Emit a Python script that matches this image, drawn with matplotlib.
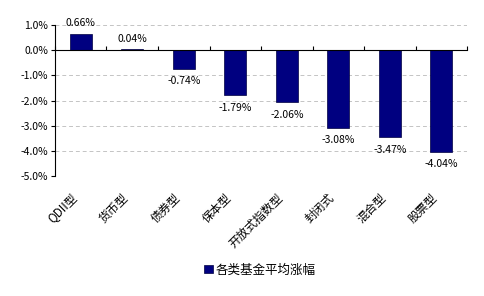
import numpy as np
import matplotlib
matplotlib.use('Agg')
import matplotlib.pyplot as plt

plt.rcParams['font.family'] = ['Noto Sans CJK SC', 'DejaVu Sans']

categories = ['QDII型', '货币型', '债券型', '保本型', '开放式指数型', '封闭式', '混合型', '股票型']
values = [0.66, 0.04, -0.74, -1.79, -2.06, -3.08, -3.47, -4.04]
yticks = [1, 0, -1, -2, -3, -4, -5]
series_name = '各类基金平均涨幅'

fig = plt.figure(figsize=(4.84, 2.96), dpi=100)
ax = fig.add_axes([0.1136, 0.4054, 0.8514, 0.5101])

x = np.arange(len(categories))
ax.bar(x, values, width=0.42, color='#000080', edgecolor='#000040', linewidth=0.5,
       label=series_name, zorder=3)

for xi, v in zip(x, values):
    if v >= 0:
        ax.text(xi, v + 0.22, f'{v:.2f}%', ha='center', va='bottom', fontsize=7.5)
    else:
        ax.text(xi, v - 0.3, f'{v:.2f}%', ha='center', va='top', fontsize=7.5)

for g in [1, -1, -2, -3, -4]:
    ax.axhline(g, color='#c4c4c4', lw=0.7, ls=(0, (4, 3)), zorder=1)

ax.set_xlim(-0.5, len(categories) - 0.5)
ax.set_ylim(-5, 1)
ax.set_yticks(yticks)
ax.set_yticklabels([f'{t:.1f}%' for t in yticks], fontsize=7.5)
ax.tick_params(axis='y', length=3, width=0.8, pad=2)

ax.spines['top'].set_visible(False)
ax.spines['right'].set_visible(False)
ax.spines['bottom'].set_position(('data', 0))
ax.spines['bottom'].set_zorder(4)
ax.set_xticks(np.arange(len(categories) + 1) - 0.5)
ax.set_xticklabels([])
ax.tick_params(axis='x', direction='in', length=3, width=0.8)

for xi, c in zip(x, categories):
    ax.text(xi - 0.2, -5.6, c, rotation=45, rotation_mode='anchor',
            ha='right', va='top', fontsize=8.5)

fig.legend(loc='center', bbox_to_anchor=(0.537, 0.088), frameon=False,
           fontsize=9, handlelength=0.7, handleheight=0.7, handletextpad=0.2)

fig.savefig('out.png', dpi=100)
